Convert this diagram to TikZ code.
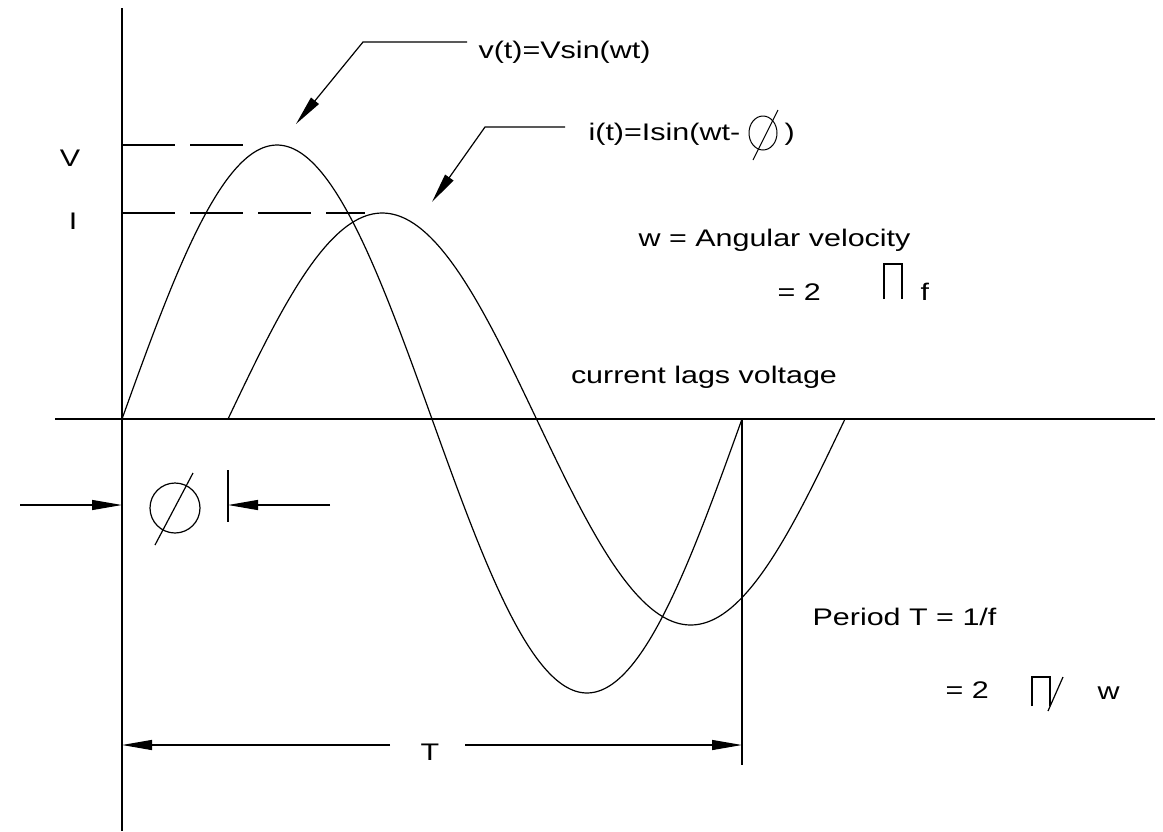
\documentclass[tikz,border=0pt]{standalone}
\usepackage{fontspec}
\setmainfont{Liberation Sans}
\usetikzlibrary{arrows.meta}
\newcommand\myst[1]{\scalebox{1.27}[1]{#1}}
\begin{document}
\begin{tikzpicture}[x=1pt,y=-1pt,line width=1.2pt,
  lbl/.style={font=\fontsize{24}{28}\selectfont,inner sep=0pt},
  arr/.style={-{Triangle[length=30pt,width=10pt]}},
  dsh/.style={dash pattern=on 53pt off 15pt}]
\useasboundingbox (0,0) rectangle (1163,831);
% axes
\coordinate (ya) at (122,8); \coordinate (yb) at (122,831);
\coordinate (xa) at (55,419); \coordinate (xb) at (1155,419);
\draw (ya) -- (yb); \draw (xa) -- (xb);
% curves
\draw[domain=0:620,samples=120,smooth] plot (122+\x,{419-274*sin(\x/620*360)});
\draw[domain=0:617,samples=120,smooth] plot (228+\x,{419-206*sin(\x/617*360)});
% dashed levels
\coordinate (v0) at (122,145); \coordinate (v1) at (243,145);
\coordinate (i0) at (122,213); \coordinate (i1) at (365,213);
\draw[dsh] (v0) -- (v1); \draw[dsh] (i0) -- (i1);
\node[lbl] (V) at (70,158) {\myst{V}};
\node[lbl] (I) at (73,221) {\myst{I}};
% labels with leaders
\node[lbl,anchor=west] (vl) at (478,52) {\myst{v(t)=Vsin(wt)}};
\coordinate (va) at (467,42); \coordinate (vb) at (363,42); \coordinate (vc) at (296,124);
\draw[arr] (va) -- (vb) -- (vc);
\node[lbl,anchor=west] (il) at (588,134) {\myst{i(t)=Isin(wt-}};
\node[lbl,anchor=west] (il2) at (784,134) {\myst{)}};
\coordinate (pc) at (763,133);
\draw[line width=1pt] (pc) ellipse (14 and 17);
\draw[line width=1pt] (778,110) -- (753,160);
\coordinate (ia) at (565,127); \coordinate (ib) at (485,127); \coordinate (ic) at (432,202);
\draw[arr] (ia) -- (ib) -- (ic);
% text block
\node[lbl,anchor=west] (w1) at (638,240) {\myst{w = Angular velocity}};
\node[lbl,anchor=west] (w2) at (777,292) {\myst{= 2}};
\draw (884,299) -- (884,264) -- (902,264) -- (902,299);
\node[lbl,anchor=west] (w3) at (920,292) {\myst{f}};
\node[lbl] (lag) at (704,377) {\myst{current lags voltage}};
\node[lbl,anchor=west] (per) at (812,617) {\myst{Period T = 1/f}};
\node[lbl,anchor=west] (p2) at (945,690) {\myst{= 2}};
\draw (1032,706) -- (1032,677) -- (1050,677) -- (1050,706);
\draw (1063,677) -- (1048,711);
\node[lbl,anchor=west] (p3) at (1097,693) {\myst{w}};
% phi offset
\coordinate (pp) at (175,508);
\draw (pp) circle (25);
\draw (193,473) -- (155,545);
\coordinate (a1) at (20,505); \coordinate (a2) at (122,505);
\coordinate (b1) at (330,505); \coordinate (b2) at (228,505);
\draw[arr] (a1) -- (a2); \draw[arr] (b1) -- (b2);
\coordinate (t1) at (228,470); \coordinate (t2) at (228,522);
\draw (t1) -- (t2);
% period dimension
\coordinate (e1) at (742,419); \coordinate (e2) at (742,765);
\draw (e1) -- (e2);
\node[lbl] (T) at (430,752) {\myst{T}};
\coordinate (d1) at (390,745); \coordinate (d2) at (122,745);
\coordinate (d3) at (465,745); \coordinate (d4) at (742,745);
\draw[arr] (d1) -- (d2); \draw[arr] (d3) -- (d4);
\end{tikzpicture}
\end{document}
